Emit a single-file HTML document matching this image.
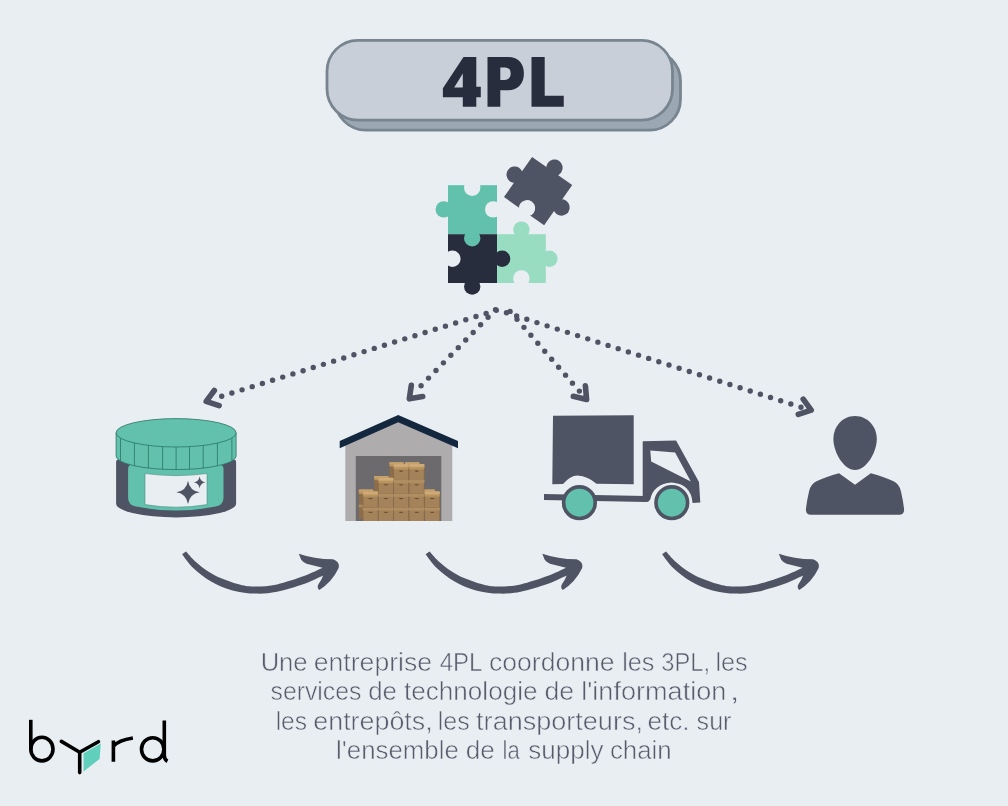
<!DOCTYPE html>
<html><head><meta charset="utf-8"><title>4PL</title>
<style>
html,body{margin:0;padding:0;background:#e9eef2;}
body{width:1008px;height:806px;overflow:hidden;font-family:"Liberation Sans",sans-serif;}
svg{display:block;will-change:transform}
</style></head><body>
<svg width="1008" height="806" viewBox="0 0 1008 806">
<rect width="1008" height="806" fill="#e9eef2"/>
<g id="pill">
<rect x="335" y="50.2" width="345.5" height="80" rx="31" ry="31" fill="#9ba7b3" stroke="#78848f" stroke-width="2.8"/>
<rect x="327" y="40.3" width="345.5" height="79.8" rx="31" ry="31" fill="#c8cfd9" stroke="#78848f" stroke-width="2.8"/>
<path fill-rule="evenodd" fill="#282d3d" d="M463.5 56.9 H476.3 V86.8 H480.8 V97.2 H476.3 V106.7 H462.8 V97.2 H442.9 V88.2 Z M462.8 73.6 V87.5 H454.2 Z M487.5 56.9 H508 C519 56.9 523.9 64 523.9 73.4 C523.9 83.5 518 90.3 507 90.3 H500.3 V106.7 H487.5 Z M500.3 67.4 V79.9 H504.5 C508.8 79.9 510.7 77.4 510.7 73.6 C510.7 69.6 508.6 67.4 504.8 67.4 Z M531.5 56.9 H544.7 V95.8 H563.75 V106.7 H531.5 Z"/>
</g>
<g id="puzzle"><rect x="448" y="185.2" width="49" height="49" fill="#62c1ad"/>
<circle cx="443.80" cy="209.40" r="8.2" fill="#62c1ad"/>
<circle cx="472.20" cy="187.70" r="8.2" fill="#e9eef2"/>
<circle cx="493.20" cy="209.40" r="8.2" fill="#e9eef2"/>
<rect x="448" y="234.2" width="49" height="48.8" fill="#282d3d"/>
<circle cx="452.40" cy="258.80" r="8.2" fill="#e9eef2"/>
<circle cx="502.10" cy="258.80" r="8.2" fill="#282d3d"/>
<circle cx="472.20" cy="286.50" r="8.2" fill="#282d3d"/>
<circle cx="472.20" cy="238.20" r="8.2" fill="#62c1ad"/>
<rect x="497" y="234.2" width="48.8" height="48.8" fill="#98dcc2"/>
<circle cx="521.40" cy="229.60" r="8.2" fill="#98dcc2"/>
<circle cx="549.40" cy="258.80" r="8.2" fill="#98dcc2"/>
<circle cx="521.40" cy="278.40" r="8.2" fill="#e9eef2"/>
<circle cx="502.10" cy="258.80" r="8.2" fill="#282d3d"/>
<g transform="translate(538.1 191.1) rotate(35)">
<rect x="-24.5" y="-24.5" width="49" height="49" fill="#4e5463"/>
<circle cx="0.00" cy="-28.60" r="8.2" fill="#4e5463"/><circle cx="-28.60" cy="0.00" r="8.2" fill="#4e5463"/><circle cx="28.60" cy="0.00" r="8.2" fill="#4e5463"/><circle cx="0.70" cy="20.40" r="8.2" fill="#e9eef2"/>
</g></g>
<g id="dots"><line x1="496.30" y1="310.20" x2="221.51" y2="396.26" stroke="#4e5463" stroke-width="5.4" stroke-linecap="round" stroke-dasharray="0 10.657"/><polyline points="219.1,405.7 206.2,401.4 214.3,390.5" fill="none" stroke="#4e5463" stroke-width="5.6" stroke-linecap="round" stroke-linejoin="round"/>
<line x1="495.50" y1="309.60" x2="420.96" y2="385.84" stroke="#4e5463" stroke-width="5.4" stroke-linecap="round" stroke-dasharray="0 10.643"/><polyline points="422.7,396.5 409.3,398.8 411.3,385.3" fill="none" stroke="#4e5463" stroke-width="5.6" stroke-linecap="round" stroke-linejoin="round"/>
<line x1="510.10" y1="311.40" x2="579.53" y2="391.25" stroke="#4e5463" stroke-width="5.4" stroke-linecap="round" stroke-dasharray="0 10.562"/><polyline points="585.4,385.9 586.6,399.4 573.3,396.3" fill="none" stroke="#4e5463" stroke-width="5.6" stroke-linecap="round" stroke-linejoin="round"/>
<line x1="506.50" y1="312.80" x2="801.19" y2="407.36" stroke="#4e5463" stroke-width="5.4" stroke-linecap="round" stroke-dasharray="0 10.665"/><polyline points="803.2,399.2 811.2,410.2 798.3,414.4" fill="none" stroke="#4e5463" stroke-width="5.6" stroke-linecap="round" stroke-linejoin="round"/></g>
<g id="jar">
<!-- body -->
<path d="M116.1 462 Q116.1 459.6 118.5 459.6 L233.7 459.6 Q236.1 459.6 236.1 462 L236.1 503.4 A60 14 0 0 1 116.1 503.4 Z" fill="#4e5463"/>
<!-- inner teal panel -->
<path d="M128.1 469 Q128.1 465 132 464.6 L219.5 464.6 Q223.5 465 223.5 469 L223.5 498 Q223.5 504.8 215.5 506.6 Q176 514.4 136 506.6 Q128.1 504.8 128.1 498 Z" fill="#62c1ad"/>
<!-- label -->
<path d="M145 473.5 Q176 477.8 207 473.5 L207 504.6 Q176 509.8 145 504.6 Z" fill="#e9eef2" stroke="#3e7f72" stroke-width="0.5"/>
<!-- sparkle -->
<path d="M188 480.8 Q189.5 490.7 199.6 492.3 Q189.5 494 188 504 Q186.5 494 176.4 492.3 Q186.5 490.7 188 480.8 Z" fill="#4e5463"/>
<path d="M199.6 476.4 Q200.4 481.4 205.4 482.2 Q200.4 483 199.6 488.2 Q198.8 483 193.8 482.2 Q198.8 481.4 199.6 476.4 Z" fill="#4e5463"/>
<!-- lid side -->
<path d="M116.1 432.8 L116.1 456 A60 13.6 0 0 0 236.1 456 L236.1 432.8 Z" fill="#62c1ad" stroke="#2c7465" stroke-width="0.8"/>
<line x1="120.5" y1="438.1" x2="120.5" y2="461.1" stroke="#2c7465" stroke-width="0.8"/><line x1="134.4" y1="443.0" x2="134.4" y2="465.8" stroke="#2c7465" stroke-width="0.8"/><line x1="148.4" y1="445.4" x2="148.4" y2="468.1" stroke="#2c7465" stroke-width="0.8"/><line x1="162.6" y1="446.6" x2="162.6" y2="469.3" stroke="#2c7465" stroke-width="0.8"/><line x1="176.1" y1="447.0" x2="176.1" y2="469.6" stroke="#2c7465" stroke-width="0.8"/><line x1="189.5" y1="446.6" x2="189.5" y2="469.3" stroke="#2c7465" stroke-width="0.8"/><line x1="203.2" y1="445.5" x2="203.2" y2="468.1" stroke="#2c7465" stroke-width="0.8"/><line x1="217.4" y1="443.1" x2="217.4" y2="465.9" stroke="#2c7465" stroke-width="0.8"/><line x1="231.9" y1="438.0" x2="231.9" y2="461.0" stroke="#2c7465" stroke-width="0.8"/><ellipse cx="176.1" cy="432.8" rx="60" ry="14.2" fill="#62c1ad" stroke="#2c7465" stroke-width="0.8"/>
</g>
<g id="warehouse">
<path d="M345.3 521 L345.3 443 L398.2 420 L452.3 443 L452.3 521 Z" fill="#aeacad"/>
<rect x="355.8" y="456" width="85.5" height="65" fill="#6c6a6c"/>
<g><rect x="359.0" y="491.6" width="14.2" height="13.7" fill="#8d6e49"/><rect x="358.7" y="489.6" width="14.6" height="4.4" rx="1" fill="#b8945f"/><rect x="358.7" y="489.6" width="14.6" height="2" rx="1" fill="#c7a26f"/><rect x="362.8" y="493.6" width="15.4" height="13.7" fill="#8a6b47"/><rect x="363.4" y="493.6" width="14.2" height="13.7" fill="#a5835a"/><rect x="362.9" y="491.4" width="15.2" height="5.4" rx="1.1" fill="#b8945f"/><rect x="362.9" y="491.4" width="15.2" height="3.0" rx="1.1" fill="#cfa976"/><path d="M367.9 498.2 Q370.5 497.7 373.1 498.2 Q370.5 500.4 367.9 498.2 Z" fill="#684c2f"/><rect x="359.0" y="505.3" width="14.2" height="13.7" fill="#8d6e49"/><rect x="358.7" y="504.7" width="14.6" height="2.6" fill="#ad895c"/><rect x="362.8" y="507.3" width="15.4" height="13.7" fill="#8a6b47"/><rect x="363.4" y="507.3" width="14.2" height="13.7" fill="#a5835a"/><rect x="362.8" y="507.3" width="15.4" height="3.1" fill="#b18e62"/><path d="M367.9 511.9 Q370.5 511.4 373.1 511.9 Q370.5 514.1 367.9 511.9 Z" fill="#684c2f"/><rect x="374.4" y="477.9" width="14.2" height="13.7" fill="#8d6e49"/><rect x="374.1" y="475.9" width="14.6" height="4.4" rx="1" fill="#b8945f"/><rect x="374.1" y="475.9" width="14.6" height="2" rx="1" fill="#c7a26f"/><rect x="378.2" y="479.9" width="15.4" height="13.7" fill="#8a6b47"/><rect x="378.8" y="479.9" width="14.2" height="13.7" fill="#a5835a"/><rect x="378.3" y="477.7" width="15.2" height="5.4" rx="1.1" fill="#b8945f"/><rect x="378.3" y="477.7" width="15.2" height="3.0" rx="1.1" fill="#cfa976"/><path d="M383.3 484.5 Q385.9 484.0 388.5 484.5 Q385.9 486.7 383.3 484.5 Z" fill="#684c2f"/><rect x="389.6" y="464.2" width="14.2" height="13.7" fill="#8d6e49"/><rect x="389.3" y="462.2" width="14.6" height="4.4" rx="1" fill="#b8945f"/><rect x="389.3" y="462.2" width="14.6" height="2" rx="1" fill="#c7a26f"/><rect x="393.4" y="466.2" width="15.4" height="13.7" fill="#8a6b47"/><rect x="394.0" y="466.2" width="14.2" height="13.7" fill="#a5835a"/><rect x="393.5" y="464.0" width="15.2" height="5.4" rx="1.1" fill="#b8945f"/><rect x="393.5" y="464.0" width="15.2" height="3.0" rx="1.1" fill="#cfa976"/><path d="M398.5 470.8 Q401.1 470.3 403.7 470.8 Q401.1 473.0 398.5 470.8 Z" fill="#684c2f"/><rect x="405.2" y="464.2" width="14.2" height="13.7" fill="#8d6e49"/><rect x="404.9" y="462.2" width="14.6" height="4.4" rx="1" fill="#b8945f"/><rect x="404.9" y="462.2" width="14.6" height="2" rx="1" fill="#c7a26f"/><rect x="409.0" y="466.2" width="15.4" height="13.7" fill="#8a6b47"/><rect x="409.6" y="466.2" width="14.2" height="13.7" fill="#a5835a"/><rect x="409.1" y="464.0" width="15.2" height="5.4" rx="1.1" fill="#b8945f"/><rect x="409.1" y="464.0" width="15.2" height="3.0" rx="1.1" fill="#cfa976"/><path d="M414.1 470.8 Q416.7 470.3 419.3 470.8 Q416.7 473.0 414.1 470.8 Z" fill="#684c2f"/><rect x="420.7" y="491.6" width="14.2" height="13.7" fill="#8d6e49"/><rect x="420.4" y="489.6" width="14.6" height="4.4" rx="1" fill="#b8945f"/><rect x="420.4" y="489.6" width="14.6" height="2" rx="1" fill="#c7a26f"/><rect x="424.5" y="493.6" width="15.4" height="13.7" fill="#8a6b47"/><rect x="425.1" y="493.6" width="14.2" height="13.7" fill="#a5835a"/><rect x="424.6" y="491.4" width="15.2" height="5.4" rx="1.1" fill="#b8945f"/><rect x="424.6" y="491.4" width="15.2" height="3.0" rx="1.1" fill="#cfa976"/><path d="M429.6 498.2 Q432.2 497.7 434.8 498.2 Q432.2 500.4 429.6 498.2 Z" fill="#684c2f"/><rect x="362.8" y="507.3" width="15.4" height="13.7" fill="#8a6b47"/><rect x="363.4" y="507.3" width="14.2" height="13.7" fill="#a5835a"/><rect x="362.8" y="507.3" width="15.4" height="3.1" fill="#b18e62"/><path d="M367.9 511.9 Q370.5 511.4 373.1 511.9 Q370.5 514.1 367.9 511.9 Z" fill="#684c2f"/><rect x="378.2" y="507.3" width="15.4" height="13.7" fill="#8a6b47"/><rect x="378.8" y="507.3" width="14.2" height="13.7" fill="#a5835a"/><rect x="378.2" y="507.3" width="15.4" height="3.1" fill="#b18e62"/><path d="M383.3 511.9 Q385.9 511.4 388.5 511.9 Q385.9 514.1 383.3 511.9 Z" fill="#684c2f"/><rect x="393.4" y="507.3" width="15.4" height="13.7" fill="#8a6b47"/><rect x="394.0" y="507.3" width="14.2" height="13.7" fill="#a5835a"/><rect x="393.4" y="507.3" width="15.4" height="3.1" fill="#b18e62"/><path d="M398.5 511.9 Q401.1 511.4 403.7 511.9 Q401.1 514.1 398.5 511.9 Z" fill="#684c2f"/><rect x="409.0" y="507.3" width="15.4" height="13.7" fill="#8a6b47"/><rect x="409.6" y="507.3" width="14.2" height="13.7" fill="#a5835a"/><rect x="409.0" y="507.3" width="15.4" height="3.1" fill="#b18e62"/><path d="M414.1 511.9 Q416.7 511.4 419.3 511.9 Q416.7 514.1 414.1 511.9 Z" fill="#684c2f"/><rect x="424.5" y="507.3" width="15.4" height="13.7" fill="#8a6b47"/><rect x="425.1" y="507.3" width="14.2" height="13.7" fill="#a5835a"/><rect x="424.5" y="507.3" width="15.4" height="3.1" fill="#b18e62"/><path d="M429.6 511.9 Q432.2 511.4 434.8 511.9 Q432.2 514.1 429.6 511.9 Z" fill="#684c2f"/><rect x="362.8" y="493.6" width="15.4" height="13.7" fill="#8a6b47"/><rect x="363.4" y="493.6" width="14.2" height="13.7" fill="#a5835a"/><rect x="362.8" y="493.6" width="15.4" height="3.1" fill="#b18e62"/><path d="M367.9 498.2 Q370.5 497.7 373.1 498.2 Q370.5 500.4 367.9 498.2 Z" fill="#684c2f"/><rect x="378.2" y="493.6" width="15.4" height="13.7" fill="#8a6b47"/><rect x="378.8" y="493.6" width="14.2" height="13.7" fill="#a5835a"/><rect x="378.2" y="493.6" width="15.4" height="3.1" fill="#b18e62"/><path d="M383.3 498.2 Q385.9 497.7 388.5 498.2 Q385.9 500.4 383.3 498.2 Z" fill="#684c2f"/><rect x="393.4" y="493.6" width="15.4" height="13.7" fill="#8a6b47"/><rect x="394.0" y="493.6" width="14.2" height="13.7" fill="#a5835a"/><rect x="393.4" y="493.6" width="15.4" height="3.1" fill="#b18e62"/><path d="M398.5 498.2 Q401.1 497.7 403.7 498.2 Q401.1 500.4 398.5 498.2 Z" fill="#684c2f"/><rect x="409.0" y="493.6" width="15.4" height="13.7" fill="#8a6b47"/><rect x="409.6" y="493.6" width="14.2" height="13.7" fill="#a5835a"/><rect x="409.0" y="493.6" width="15.4" height="3.1" fill="#b18e62"/><path d="M414.1 498.2 Q416.7 497.7 419.3 498.2 Q416.7 500.4 414.1 498.2 Z" fill="#684c2f"/><rect x="424.5" y="493.6" width="15.4" height="13.7" fill="#8a6b47"/><rect x="425.1" y="493.6" width="14.2" height="13.7" fill="#a5835a"/><rect x="424.5" y="493.6" width="15.4" height="3.1" fill="#b18e62"/><path d="M429.6 498.2 Q432.2 497.7 434.8 498.2 Q432.2 500.4 429.6 498.2 Z" fill="#684c2f"/><rect x="378.2" y="479.9" width="15.4" height="13.7" fill="#8a6b47"/><rect x="378.8" y="479.9" width="14.2" height="13.7" fill="#a5835a"/><rect x="378.2" y="479.9" width="15.4" height="3.1" fill="#b18e62"/><path d="M383.3 484.5 Q385.9 484.0 388.5 484.5 Q385.9 486.7 383.3 484.5 Z" fill="#684c2f"/><rect x="393.4" y="479.9" width="15.4" height="13.7" fill="#8a6b47"/><rect x="394.0" y="479.9" width="14.2" height="13.7" fill="#a5835a"/><rect x="393.4" y="479.9" width="15.4" height="3.1" fill="#b18e62"/><path d="M398.5 484.5 Q401.1 484.0 403.7 484.5 Q401.1 486.7 398.5 484.5 Z" fill="#684c2f"/><rect x="409.0" y="479.9" width="15.4" height="13.7" fill="#8a6b47"/><rect x="409.6" y="479.9" width="14.2" height="13.7" fill="#a5835a"/><rect x="409.0" y="479.9" width="15.4" height="3.1" fill="#b18e62"/><path d="M414.1 484.5 Q416.7 484.0 419.3 484.5 Q416.7 486.7 414.1 484.5 Z" fill="#684c2f"/><rect x="393.4" y="466.2" width="15.4" height="13.7" fill="#8a6b47"/><rect x="394.0" y="466.2" width="14.2" height="13.7" fill="#a5835a"/><rect x="393.5" y="464.0" width="15.2" height="5.4" rx="1.1" fill="#b8945f"/><rect x="393.5" y="464.0" width="15.2" height="3.0" rx="1.1" fill="#cfa976"/><path d="M398.5 470.8 Q401.1 470.3 403.7 470.8 Q401.1 473.0 398.5 470.8 Z" fill="#684c2f"/><rect x="409.0" y="466.2" width="15.4" height="13.7" fill="#8a6b47"/><rect x="409.6" y="466.2" width="14.2" height="13.7" fill="#a5835a"/><rect x="409.1" y="464.0" width="15.2" height="5.4" rx="1.1" fill="#b8945f"/><rect x="409.1" y="464.0" width="15.2" height="3.0" rx="1.1" fill="#cfa976"/><path d="M414.1 470.8 Q416.7 470.3 419.3 470.8 Q416.7 473.0 414.1 470.8 Z" fill="#684c2f"/><rect x="378.2" y="479.9" width="15.4" height="13.7" fill="#8a6b47"/><rect x="378.8" y="479.9" width="14.2" height="13.7" fill="#a5835a"/><rect x="378.3" y="477.7" width="15.2" height="5.4" rx="1.1" fill="#b8945f"/><rect x="378.3" y="477.7" width="15.2" height="3.0" rx="1.1" fill="#cfa976"/><path d="M383.3 484.5 Q385.9 484.0 388.5 484.5 Q385.9 486.7 383.3 484.5 Z" fill="#684c2f"/><rect x="362.8" y="493.6" width="15.4" height="13.7" fill="#8a6b47"/><rect x="363.4" y="493.6" width="14.2" height="13.7" fill="#a5835a"/><rect x="362.9" y="491.4" width="15.2" height="5.4" rx="1.1" fill="#b8945f"/><rect x="362.9" y="491.4" width="15.2" height="3.0" rx="1.1" fill="#cfa976"/><path d="M367.9 498.2 Q370.5 497.7 373.1 498.2 Q370.5 500.4 367.9 498.2 Z" fill="#684c2f"/><rect x="424.5" y="493.6" width="15.4" height="13.7" fill="#8a6b47"/><rect x="425.1" y="493.6" width="14.2" height="13.7" fill="#a5835a"/><rect x="424.6" y="491.4" width="15.2" height="5.4" rx="1.1" fill="#b8945f"/><rect x="424.6" y="491.4" width="15.2" height="3.0" rx="1.1" fill="#cfa976"/><path d="M429.6 498.2 Q432.2 497.7 434.8 498.2 Q432.2 500.4 429.6 498.2 Z" fill="#684c2f"/></g><path d="M339.7 441 L398.2 415 L458 441 L458 448.2 L398.2 422.2 L339.7 448.2 Z" fill="#13273f"/>
</g>
<g id="truck">
<path d="M553 415.8 L633.7 415.2 L633.7 484.2 L596.5 483.8 Q588 476 577.5 475.4 Q570 475.6 563 484 L552.3 484.2 Z" fill="#4e5463"/>
<path d="M544 494 L645 496 L650.4 498 L649.6 500 Q648.8 502 646.4 502 L544 500.1 Z" fill="#4e5463"/>
<path d="M642.7 441.2 L676.1 440.6 L699 482 L700.3 502.4 L692.6 503 Q691 484 671.8 482.6 Q653.5 484 650.2 499.6 L648 501.5 L642.7 501 Z" fill="#4e5463"/>
<path d="M650.3 450.5 L675.1 452.4 L690.8 481.4 L651.2 461.4 Z" fill="#e9eef2"/>
<circle cx="579.4" cy="502.7" r="15.8" fill="#62c1ad" stroke="#4e5463" stroke-width="3.6"/>
<circle cx="671.8" cy="502.7" r="15.8" fill="#62c1ad" stroke="#4e5463" stroke-width="3.6"/>
</g>
<g id="person">
<path d="M855 416 C 868 416 876.8 427 876.8 439 C 876.8 452 866.5 470 855 470 C 843.5 470 833.4 452 833.4 439 C 833.4 427 842 416 855 416 Z" fill="#4e5463"/>
<path d="M839 473.3 L855 484.8 L870.8 473.3 Q884 476.8 893 481 Q899.5 484 901 491.5 Q903.2 501 904.1 509.3 Q904.3 514.7 899 514.7 L811 514.7 Q805.7 514.7 805.9 509.3 Q806.8 501 809 491.5 Q810.5 484 817 481 Q826 476.8 839 473.3 Z" fill="#4e5463"/>
</g>
<path transform="translate(0 0)" d="M186.0 551.4 C187.8 553.3 192.0 558.7 196.8 562.7 C201.6 566.7 207.5 571.6 214.6 575.2 C221.7 578.9 232.8 582.7 239.6 584.6 C246.4 586.5 249.4 586.6 255.7 586.6 C261.9 586.6 269.1 586.1 277.1 584.4 C285.1 582.6 296.3 578.9 303.9 576.1 C311.5 573.3 319.4 569.2 322.5 567.8 L306.5 563.8 Q302.6 561.8 301.2 559.8 L298.8 553.7 Q314 559 333 559.3 Q340.6 562.2 338.4 568.6 Q332 582 319.4 590 Q316.6 588.4 318.4 584.2 Q321.6 580 323.2 575.6 C320.0 577.0 311.6 581.4 303.9 584.1 C296.2 586.8 285.1 590.2 277.1 591.8 C269.1 593.4 263.1 593.8 255.7 593.6 C248.3 593.4 239.9 592.4 232.5 590.4 C225.1 588.4 217.7 585.1 211.1 581.4 C204.5 577.7 198.0 572.5 193.2 568.0 C188.4 563.5 183.9 556.6 182.1 554.3 Z" fill="#4e5463"/>
<path transform="translate(243.5 0)" d="M186.0 551.4 C187.8 553.3 192.0 558.7 196.8 562.7 C201.6 566.7 207.5 571.6 214.6 575.2 C221.7 578.9 232.8 582.7 239.6 584.6 C246.4 586.5 249.4 586.6 255.7 586.6 C261.9 586.6 269.1 586.1 277.1 584.4 C285.1 582.6 296.3 578.9 303.9 576.1 C311.5 573.3 319.4 569.2 322.5 567.8 L306.5 563.8 Q302.6 561.8 301.2 559.8 L298.8 553.7 Q314 559 333 559.3 Q340.6 562.2 338.4 568.6 Q332 582 319.4 590 Q316.6 588.4 318.4 584.2 Q321.6 580 323.2 575.6 C320.0 577.0 311.6 581.4 303.9 584.1 C296.2 586.8 285.1 590.2 277.1 591.8 C269.1 593.4 263.1 593.8 255.7 593.6 C248.3 593.4 239.9 592.4 232.5 590.4 C225.1 588.4 217.7 585.1 211.1 581.4 C204.5 577.7 198.0 572.5 193.2 568.0 C188.4 563.5 183.9 556.6 182.1 554.3 Z" fill="#4e5463"/>
<path transform="translate(480 0)" d="M186.0 551.4 C187.8 553.3 192.0 558.7 196.8 562.7 C201.6 566.7 207.5 571.6 214.6 575.2 C221.7 578.9 232.8 582.7 239.6 584.6 C246.4 586.5 249.4 586.6 255.7 586.6 C261.9 586.6 269.1 586.1 277.1 584.4 C285.1 582.6 296.3 578.9 303.9 576.1 C311.5 573.3 319.4 569.2 322.5 567.8 L306.5 563.8 Q302.6 561.8 301.2 559.8 L298.8 553.7 Q314 559 333 559.3 Q340.6 562.2 338.4 568.6 Q332 582 319.4 590 Q316.6 588.4 318.4 584.2 Q321.6 580 323.2 575.6 C320.0 577.0 311.6 581.4 303.9 584.1 C296.2 586.8 285.1 590.2 277.1 591.8 C269.1 593.4 263.1 593.8 255.7 593.6 C248.3 593.4 239.9 592.4 232.5 590.4 C225.1 588.4 217.7 585.1 211.1 581.4 C204.5 577.7 198.0 572.5 193.2 568.0 C188.4 563.5 183.9 556.6 182.1 554.3 Z" fill="#4e5463"/>
<g id="text" font-family="Liberation Sans, sans-serif" font-size="25.8" fill="#565c6c" stroke="#e9eef2" stroke-width="0.55"><text x="260.63" y="670.7" textLength="46.99" lengthAdjust="spacingAndGlyphs">Une</text><text x="313.79" y="670.7" textLength="118.24" lengthAdjust="spacingAndGlyphs">entreprise</text><text x="439.73" y="670.7" textLength="42.77" lengthAdjust="spacingAndGlyphs">4PL</text><text x="488.99" y="670.7" textLength="125.64" lengthAdjust="spacingAndGlyphs">coordonne</text><text x="622.25" y="670.7" textLength="32.20" lengthAdjust="spacingAndGlyphs">les</text><text x="661.33" y="670.7" textLength="48.74" lengthAdjust="spacingAndGlyphs">3PL,</text><text x="715.45" y="670.7" textLength="32.20" lengthAdjust="spacingAndGlyphs">les</text>
<text x="270.62" y="700.0" textLength="90.71" lengthAdjust="spacingAndGlyphs">services</text><text x="368.22" y="700.0" textLength="28.70" lengthAdjust="spacingAndGlyphs">de</text><text x="404.03" y="700.0" textLength="133.50" lengthAdjust="spacingAndGlyphs">technologie</text><text x="544.49" y="700.0" textLength="29.64" lengthAdjust="spacingAndGlyphs">de</text><text x="581.17" y="700.0" textLength="145.21" lengthAdjust="spacingAndGlyphs">l'information</text><text x="729.29" y="700.0" textLength="10.87" lengthAdjust="spacingAndGlyphs">,</text>
<text x="275.67" y="729.6" textLength="31.46" lengthAdjust="spacingAndGlyphs">les</text><text x="313.28" y="729.6" textLength="119.45" lengthAdjust="spacingAndGlyphs">entrepôts,</text><text x="437.76" y="729.6" textLength="31.89" lengthAdjust="spacingAndGlyphs">les</text><text x="476.12" y="729.6" textLength="166.82" lengthAdjust="spacingAndGlyphs">transporteurs,</text><text x="647.41" y="729.6" textLength="42.05" lengthAdjust="spacingAndGlyphs">etc.</text><text x="696.62" y="729.6" textLength="34.85" lengthAdjust="spacingAndGlyphs">sur</text>
<text x="336.12" y="759.0" textLength="122.70" lengthAdjust="spacingAndGlyphs">l'ensemble</text><text x="465.81" y="759.0" textLength="29.01" lengthAdjust="spacingAndGlyphs">de</text><text x="502.47" y="759.0" textLength="17.25" lengthAdjust="spacingAndGlyphs">la</text><text x="528.33" y="759.0" textLength="75.15" lengthAdjust="spacingAndGlyphs">supply</text><text x="609.92" y="759.0" textLength="61.80" lengthAdjust="spacingAndGlyphs">chain</text>
</g>
<g id="logo" fill="none" stroke="#000" stroke-width="3.6" stroke-linecap="butt" stroke-linejoin="round">
<path d="M30.8 719.8 L30.8 750"/>
<ellipse cx="41.9" cy="749.1" rx="11.1" ry="11.8"/>
<path d="M61.4 741.4 L79.7 752.2 L98.4 741.7 M79.7 752.2 L79.7 772.6" stroke-linecap="round"/>
<path d="M113.4 740.6 L113.4 761.8 M113.5 746.2 Q118.5 740.2 132.9 738"/>
<ellipse cx="152.7" cy="749.3" rx="11.2" ry="11.6"/>
<path d="M164.3 720.4 L164.3 755.5 Q164.4 759.6 167.4 761.4"/>
<path d="M83.5 753.3 L100.8 743.6 L99.6 758.9 L83.6 771.5 Z" fill="#60d0bd" stroke="none"/>
</g>
</svg>
</body></html>
